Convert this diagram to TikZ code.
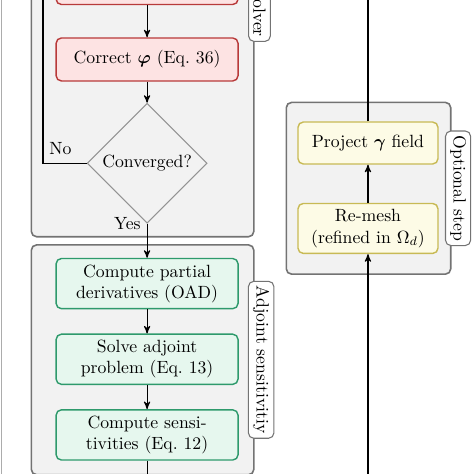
\documentclass[tikz,border=0pt]{standalone}
\usepackage{amsmath}
\usepackage{bm}
\usetikzlibrary{arrows,positioning,shapes.geometric,fit,backgrounds}
\definecolor{solverfill}{HTML}{FDE3E3}
\definecolor{solverdraw}{HTML}{B83A3A}
\definecolor{adjfill}{HTML}{E6F7EE}
\definecolor{adjdraw}{HTML}{2E9A6C}
\definecolor{optfill}{HTML}{FDFBE6}
\definecolor{optdraw}{HTML}{C8BA55}
\definecolor{groupfill}{HTML}{F2F2F2}
\definecolor{groupdraw}{HTML}{737373}
\tikzset{
    %Define standard arrow tip
    >=stealth',
    %Define style for boxes
    box/.style={
           rectangle,
           rounded corners=3pt,
           line width=0.8pt,
           inner sep=3.4pt,
           minimum height=24.3pt,
           align=center},
    solverbox/.style={box, draw=solverdraw, fill=solverfill, text width=96pt},
    adjbox/.style={box, draw=adjdraw, fill=adjfill, text width=96pt},
    optbox/.style={box, draw=optdraw, fill=optfill, text width=72.3pt, minimum height=23.7pt},
    decision/.style={
           diamond,
           aspect=1,
           draw=gray!85,
           line width=0.6pt,
           inner sep=0pt,
           minimum size=67.8pt},
    % Define group styles
    group/.style={
           rectangle,
           rounded corners=3pt,
           draw=groupdraw,
           fill=groupfill,
           line width=0.9pt,
           inner sep=0pt},
    grouplabel/.style={
           rectangle,
           rounded corners=3pt,
           draw=groupdraw,
           fill=white,
           line width=0.6pt,
           inner sep=2.6pt,
           rotate=-90},
    % Define arrow style
    flow/.style={
           ->,
           line width=0.6pt}
}
\begin{document}
\begin{tikzpicture}
    \useasboundingbox (0,0) rectangle (267.8pt,-267.8pt);
    \clip (0,0) rectangle (267.8pt,-267.8pt);
 %nodes
    \node[solverbox] (corr) at (83.1pt,-33.6pt) {Correct $\bm{\varphi}$ (Eq.~36)};
    \node[solverbox, above=18.1pt of corr] (prev) {};
    \node[decision, below=11.9pt of corr] (conv) {Converged?};
    \node[adjbox, below=19.2pt of conv] (partial) {Compute partial\\derivatives (OAD)};
    \node[adjbox, below=13.6pt of partial] (adjoint) {Solve adjoint\\problem (Eq.~13)};
    \node[adjbox, below=13.6pt of adjoint] (sens) {Compute sensi-\\tivities (Eq.~12)};
    \node[optbox] (proj) at (207.9pt,-80.8pt) {Project $\bm{\gamma}$ field};
    \node[optbox, below=21.5pt of proj] (remesh) {Re-mesh\\(refined in $\Omega_d$)};
    \coordinate (looptop) at (24.3pt,0pt);
    \coordinate (sensend) at (83.1pt,-267.8pt);
    \coordinate (projend) at (207.9pt,0pt);
    \coordinate (remeshstart) at (207.9pt,-267.8pt);
 %groups
    \begin{scope}[on background layer]
        \clip (0,0) rectangle (267.8pt,-267.8pt);
        \draw[gray!65, line width=1.1pt] (0.85pt,0pt) -- (0.85pt,-267.8pt);
        \node[group, fit={([xshift=-13.6pt,yshift=30pt]prev.north west) ([xshift=8.5pt,yshift=-7.3pt]conv.south -| corr.east)}] (solver) {};
        \node[group, fit={([xshift=-13.6pt,yshift=7.3pt]partial.north west) ([xshift=8.5pt,yshift=-7.9pt]sens.south east)}] (adjgroup) {};
        \node[group, fit={([xshift=-6.2pt,yshift=10.7pt]proj.north west) ([xshift=6.8pt,yshift=-11.3pt]remesh.south east)}] (optgroup) {};
    \end{scope}
    \node[grouplabel, anchor=east] (solverlbl) at (146.6pt,-23.7pt) {Flow solver};
    \node[grouplabel] (adjlbl) at ([xshift=3.7pt]adjgroup.east) {Adjoint sensitivitiy};
    \node[grouplabel] (optlbl) at ([xshift=3.7pt]optgroup.east) {Optional step};
 %edges
    \draw[flow] (prev) -- (corr);
    \draw[flow] (corr) -- (conv);
    \draw[line width=0.6pt] (conv.west) -| (looptop);
    \node[anchor=south east, xshift=-5pt, yshift=1.5pt] (no) at (conv.west) {No};
    \draw[flow] (conv.south) node[left] (yes) {Yes} -- (partial);
    \draw[flow] (partial) -- (adjoint);
    \draw[flow] (adjoint) -- (sens);
    \draw[line width=0.6pt] (sens) -- (sensend);
    \draw[flow] (remeshstart) -- (remesh);
    \draw[flow] (remesh) -- (proj);
    \draw[line width=0.6pt] (proj) -- (projend);
\end{tikzpicture}
\end{document}
